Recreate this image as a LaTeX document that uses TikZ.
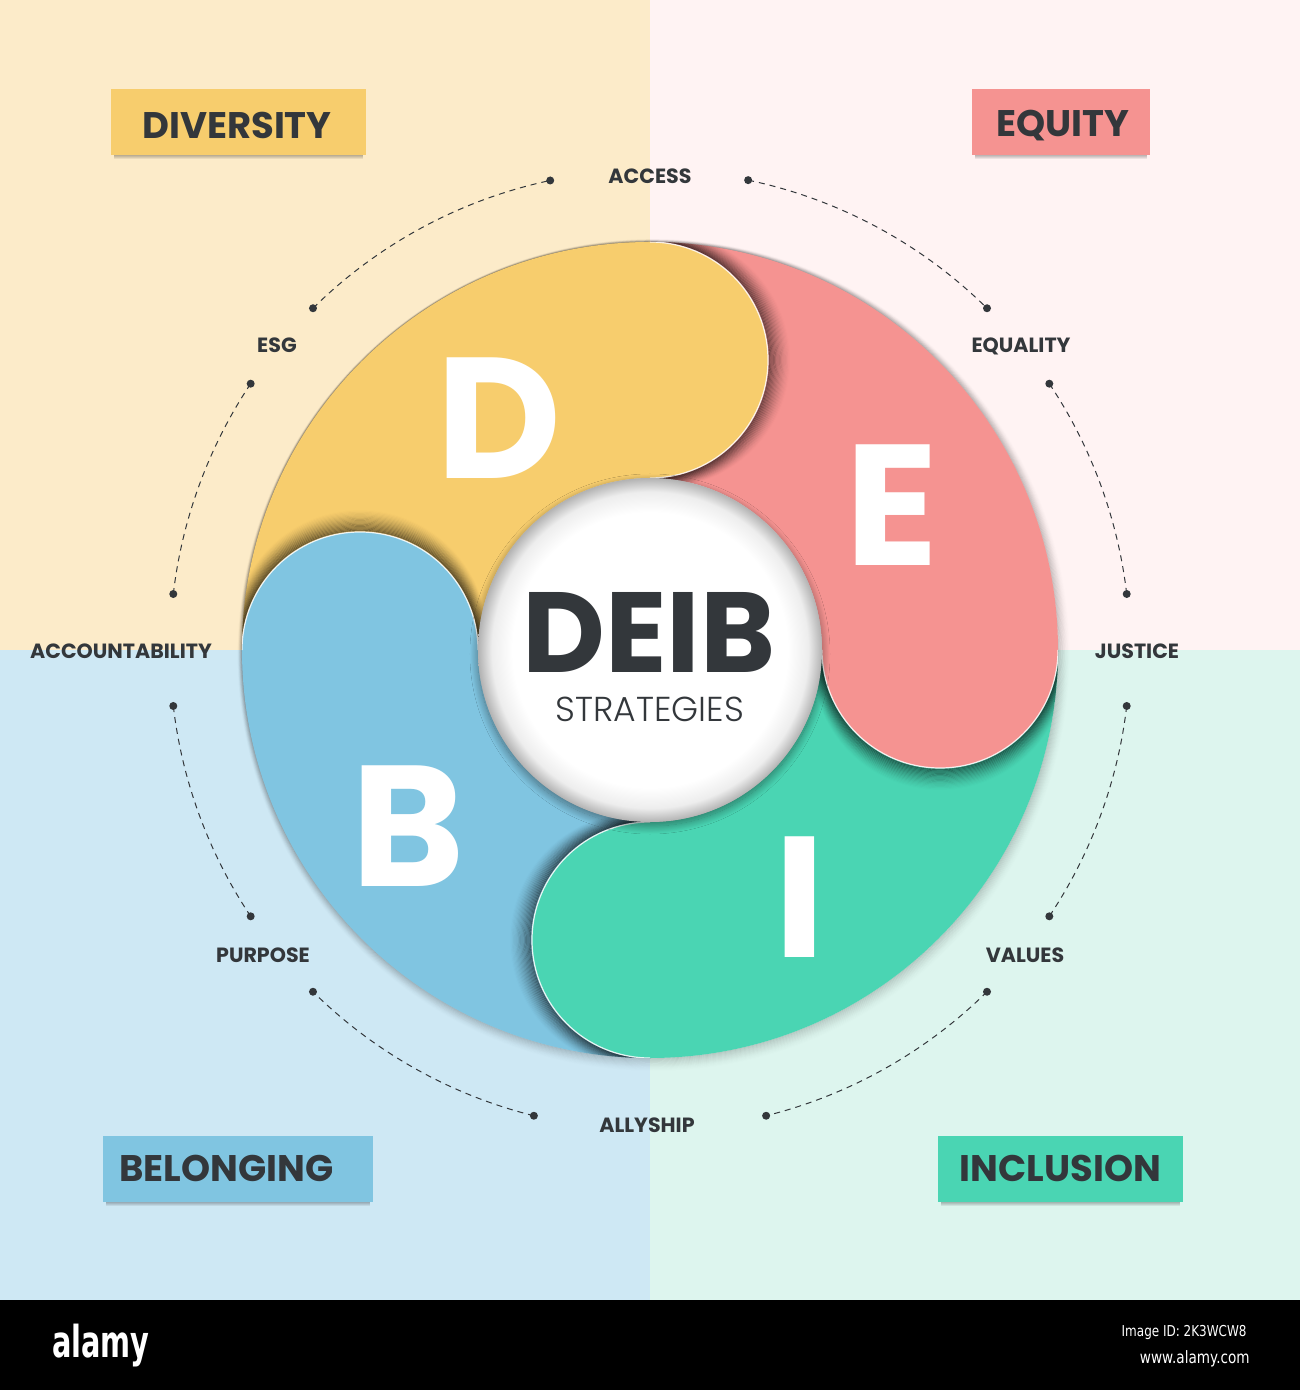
\documentclass[tikz,border=0pt]{standalone}
\usepackage{fontspec}
\setmainfont{Poppins}
\IfFontExistsTF{Poppins Light}{\newfontfamily\lightfont{Poppins Light}}{\newfontfamily\lightfont{Poppins}}
\newfontfamily\wmfont{DejaVu Sans}
\usetikzlibrary{shadows.blur,calc}
\definecolor{cyel}{HTML}{F7CD6D}
\definecolor{cred}{HTML}{F59391}
\definecolor{cgrn}{HTML}{4AD5B3}
\definecolor{cblu}{HTML}{80C5E1}
\definecolor{bgTL}{HTML}{FCEBC9}
\definecolor{bgTR}{HTML}{FFF3F3}
\definecolor{bgBL}{HTML}{CEE8F4}
\definecolor{bgBR}{HTML}{DDF5EE}
\definecolor{cdark}{HTML}{33373B}
\pgfdeclareradialshading{holeshade}{\pgfpoint{0bp}{0bp}}{color(0bp)=(white); color(20bp)=(white); color(23bp)=(black!7); color(25bp)=(black!30); color(50bp)=(black!30)}
\tikzset{
  lbl/.style={font=\fontsize{10.3pt}{12pt}\selectfont\bfseries, text=cdark, inner sep=0pt, text depth=0pt},
  ttl/.style={font=\fontsize{18.5pt}{22pt}\selectfont\bfseries, text=cdark, inner sep=0pt, text depth=0pt},
  tbox/.style={minimum height=33pt, inner sep=0pt},
  bigletter/.style={font=\fontsize{86pt}{90pt}\selectfont\bfseries, text=white, inner sep=0pt, text depth=0pt},
  dashline/.style={draw=cdark, line width=0.5pt, dash pattern=on 3pt off 2.5pt},
  dotc/.style={fill=cdark},
  headedge/.style={draw=white, draw opacity=0.85, line width=0.6pt},
}
% soft shadow in front of a rounded head: centre x, centre y, shift per step x, y, start angle
\newcommand{\headshadow}[5]{%
  \foreach \k in {1,...,18}{%
    \pgfmathsetmacro\op{0.42*(1-\k/19)^1.5}%
    \pgfmathsetmacro\rr{118+0.5*\k}%
    \draw[black, line width=0.8pt, draw opacity=\op] ({#1+(#3)*\k},{#2+(#4)*\k}) ++({#5}:\rr) arc[start angle={#5}, delta angle=-180, radius=\rr];
  }}
\newcommand{\boxshadow}[1]{%
  \foreach \k in {1,...,4}{%
    \fill[black, opacity=0.07] ($(#1.south west)+(3,-\k)$) rectangle ($(#1.south east)+(-3,0)$);
  }}
\begin{document}
\begin{tikzpicture}[x=0.5pt,y=0.5pt]
\useasboundingbox (-650,-740) rectangle (650,650);
% backgrounds
\fill[bgTL] (-650,0) rectangle (0,650);
\fill[bgTR] (0,0) rectangle (650,650);
\fill[bgBL] (-650,-650) rectangle (0,0);
\fill[bgBR] (0,-650) rectangle (650,0);
\fill[black] (-650,-740) rectangle (650,-650);
% dashed ring
\foreach \a/\b in {78.2/45.4, 33.7/6.7, -6.7/-33.7, -45.4/-76, -104/-134.6, -146.3/-173.3, 173.3/146.3, 134.6/102}{
  \draw[dashline] (\a:480) arc[start angle=\a, end angle=\b, radius=480];
  \fill[dotc] (\a:480) circle (4);
  \fill[dotc] (\b:480) circle (4);
}
% ring labels
\node[lbl] (access) at (0,474) {ACCESS};
\node[lbl] (equality) at (371,305) {EQUALITY};
\node[lbl] (justice) at (487,-1) {JUSTICE};
\node[lbl] (values) at (375,-305) {VALUES};
\node[lbl] (allyship) at (-3,-475) {ALLYSHIP};
\node[lbl] (purpose) at (-387,-305) {PURPOSE};
\node[lbl] (accountability) at (-529,-1) {ACCOUNTABILITY};
\node[lbl] (esg) at (-373,305) {ESG};
% title boxes
\node[tbox, fill=cyel, minimum width=127.5pt] (boxD) at (-411.5,528) {};
\boxshadow{boxD}
\node[ttl] (tD) at (-413,525) {DIVERSITY};
\node[tbox, fill=cred, minimum width=89pt] (boxE) at (411,528) {};
\boxshadow{boxE}
\node[ttl] (tE) at (413,527) {EQUITY};
\node[tbox, fill=cblu, minimum width=135pt] (boxB) at (-412,-518.5) {};
\boxshadow{boxB}
\node[ttl] (tB) at (-423.5,-518) {BELONGING};
\node[tbox, fill=cgrn, minimum width=122.5pt] (boxI) at (410.5,-518.5) {};
\boxshadow{boxI}
\node[ttl] (tI) at (410.5,-518) {INCLUSION};
% outer soft shadow
\foreach \k in {1,...,14}{
  \pgfmathsetmacro\op{0.12*(1-\k/15)^1.5}
  \draw[black, line width=0.8pt, draw opacity=\op] ({0.25*\k},{-0.35*\k}) circle ({407+0.6*\k});
}
% bodies
\fill[cyel] (90:408) arc[start angle=90,end angle=180,radius=408] -- (180:172) arc[start angle=180,end angle=90,radius=172] -- cycle;
\fill[cred] (0:408) arc[start angle=0,end angle=90,radius=408] -- (90:172) arc[start angle=90,end angle=0,radius=172] -- cycle;
\fill[cgrn] (-90:408) arc[start angle=-90,end angle=0,radius=408] -- (0:172) arc[start angle=0,end angle=-90,radius=172] -- cycle;
\fill[cblu] (180:408) arc[start angle=180,end angle=270,radius=408] -- (270:172) arc[start angle=270,end angle=180,radius=172] -- cycle;
% heads with their shadows
\begin{scope}
\clip (0,0) circle (408);
\headshadow{0}{290}{0.7}{0}{90}
\headshadow{290}{0}{0}{-0.7}{0}
\headshadow{0}{-290}{-0.7}{0}{-90}
\headshadow{-290}{0}{0}{0.7}{180}
\fill[cyel] (-10,410) -- (0,408) arc[start angle=90,end angle=-90,radius=118] -- (-10,172) -- cycle;
\draw[headedge] (0,408) arc[start angle=90,end angle=-90,radius=118];
\fill[cred] (410,10) -- (408,0) arc[start angle=0,end angle=-180,radius=118] -- (172,10) -- cycle;
\draw[headedge] (408,0) arc[start angle=0,end angle=-180,radius=118];
\fill[cgrn] (10,-410) -- (0,-408) arc[start angle=-90,end angle=-270,radius=118] -- (10,-172) -- cycle;
\draw[headedge] (0,-408) arc[start angle=-90,end angle=-270,radius=118];
\fill[cblu] (-410,-10) -- (-408,0) arc[start angle=180,end angle=0,radius=118] -- (-172,-10) -- cycle;
\draw[headedge] (-408,0) arc[start angle=180,end angle=0,radius=118];
\end{scope}
% letters
\node[bigletter] (letD) at (-151,232) {D};
\node[bigletter] (letE) at (242,145) {E};
\node[bigletter] (letI) at (150,-247) {I};
\node[bigletter] (letB) at (-242,-176) {B};
% hub
\node[circle, minimum size=172pt, inner sep=0pt, shade, shading=holeshade,
  blur shadow={shadow xshift=0pt, shadow yshift=-2pt, shadow blur radius=4pt, shadow opacity=45, shadow blur steps=30}] (hub) at (0,0) {};
\node[font=\fontsize{57pt}{60pt}\selectfont\bfseries, text=cdark, inner sep=0pt, text depth=0pt] (deib) at (-1,18) {DEIB};
\node[font=\fontsize{17.3pt}{20pt}\selectfont\lightfont, text=cdark, inner sep=0pt, text depth=0pt] (strat) at (0,-59) {STRATEGIES};
% watermark bar
\node[text=white, inner sep=0pt] (alamy) at (-549,-696) {\scalebox{0.72}[1.1]{\fontsize{20pt}{22pt}\wmfont\bfseries alamy}};
\node[text=white, inner sep=0pt, anchor=east] (imgid) at (597,-682) {\scalebox{0.8}[1]{\fontsize{7.5pt}{9pt}\wmfont Image ID: 2K3WCW8}};
\node[text=white, inner sep=0pt, anchor=east] (www) at (600,-709) {\scalebox{0.8}[1]{\fontsize{8.5pt}{10pt}\wmfont www.alamy.com}};
\end{tikzpicture}
\end{document}
